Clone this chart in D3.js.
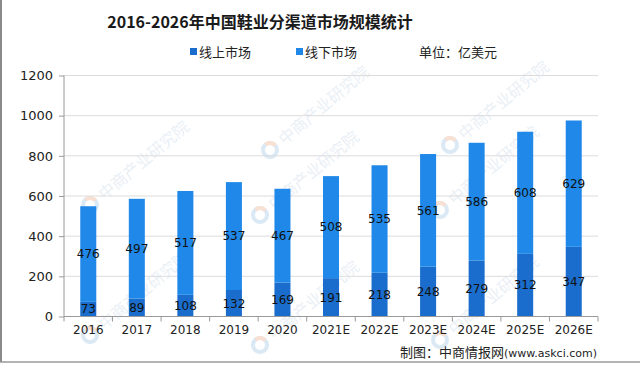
<!DOCTYPE html>
<html>
<head>
<meta charset="utf-8">
<script src="https://cdn.jsdelivr.net/npm/d3@7"></script>
<style>
body { margin: 0; background: #fff; }
svg { display: block; }
</style>
</head>
<body>
<script>
// data
var years = ["2016", "2017", "2018", "2019", "2020", "2021E", "2022E", "2023E", "2024E", "2025E", "2026E"];
var online = [73, 89, 108, 132, 169, 191, 218, 248, 279, 312, 347];
var offline = [476, 497, 517, 537, 467, 508, 535, 561, 586, 608, 629];
var seriesNames = ["线上市场", "线下市场"];
var yTicks = [0, 200, 400, 600, 800, 1000, 1200];

var colors = ["#1a6dcc", "#1f88e8"];
var W = 640, H = 368;
var margin = {top: 75.5, right: 42, bottom: 51.5, left: 64};
var cjk = "'Noto Sans CJK SC', 'Noto Sans', sans-serif";
var num = "'DejaVu Sans', Verdana, sans-serif";

var svg = d3.select("body").append("svg").attr("width", W).attr("height", H);

// watermark, very faint, kept inside the picture
var wm = svg.append("g").attr("class", "watermark");
var wmPos = [[90, 205], [260, 215], [440, 210], [90, 335], [260, 345], [440, 340], [270, 150], [450, 145]];
wmPos.forEach(function(p) {
	var g = wm.append("g").attr("transform", "translate(" + p[0] + "," + p[1] + ") rotate(-40)");
	g.append("circle").attr("r", 7).attr("fill", "none").attr("stroke", "#dbe9f5").attr("stroke-width", 4);
	g.append("path").attr("d", "M0,-7 A7,7 0 0,1 7,0").attr("fill", "none").attr("stroke", "#f8e0d3").attr("stroke-width", 4);
	g.append("text").attr("x", 14).attr("y", 6).text("中商产业研究院")
		.attr("font-family", cjk).attr("font-size", 16).attr("fill", "#eaf0f6");
});

// frame
svg.append("line").attr("x1", 1).attr("x2", 1).attr("y1", 0).attr("y2", 362).attr("stroke", "#8a8a8a").attr("stroke-width", 2);
svg.append("line").attr("x1", 0).attr("x2", W).attr("y1", 362).attr("y2", 362).attr("stroke", "#9a9a9a").attr("stroke-width", 1.5);

var width = W - margin.left - margin.right,
    height = H - margin.top - margin.bottom;

var x = d3.scaleBand().domain(years).range([0, width]).paddingInner(0.67).paddingOuter(0.335);
var y = d3.scaleLinear().domain([0, 1200]).range([height, 0]);

var g = svg.append("g").attr("transform", "translate(" + margin.left + "," + margin.top + ")");

// grid
g.selectAll(".grid").data(yTicks.slice(1)).enter().append("line")
	.attr("x1", 0).attr("x2", width)
	.attr("y1", function(d) { return y(d); }).attr("y2", function(d) { return y(d); })
	.attr("stroke", "#dcdcdc");

var stackData = years.map(function(yr, i) { return {year: yr, a: online[i], b: offline[i]}; });
var stack = d3.stack().keys(["a", "b"])(stackData);

stack.forEach(function(layer, li) {
	g.selectAll(".bar" + li).data(layer).enter().append("rect")
		.attr("x", function(d) { return x(d.data.year); })
		.attr("width", x.bandwidth())
		.attr("y", function(d) { return y(d[1]); })
		.attr("height", function(d) { return y(d[0]) - y(d[1]); })
		.attr("fill", colors[li]);
	g.selectAll(".lab" + li).data(layer).enter().append("text")
		.attr("x", function(d) { return x(d.data.year) + x.bandwidth() / 2; })
		.attr("y", function(d) { return (y(d[0]) + y(d[1])) / 2; })
		.attr("dy", "0.36em")
		.attr("text-anchor", "middle")
		.attr("font-family", num).attr("font-size", 12).attr("fill", "#111")
		.text(function(d) { return d[1] - d[0]; });
});

// axes
var yAxis = g.append("g").call(d3.axisLeft(y).tickValues(yTicks).tickFormat(d3.format("d")).tickSize(5).tickPadding(6));
yAxis.select(".domain").attr("stroke", "#9a9a9a").attr("d", "M0," + height + "V0");
yAxis.selectAll(".tick line").attr("stroke", "#9a9a9a");
yAxis.selectAll("text").attr("font-family", num).attr("font-size", 13).attr("fill", "#222");

var xAxis = g.append("g").attr("transform", "translate(0," + height + ")")
	.call(d3.axisBottom(x).tickSize(0).tickPadding(9));
xAxis.select(".domain").attr("stroke", "#9a9a9a").attr("d", "M0,0H" + width);
xAxis.selectAll("text").attr("font-family", num).attr("font-size", 12).attr("fill", "#222");
// category separators
g.selectAll(".sep").data(d3.range(years.length + 1)).enter().append("line")
	.attr("x1", function(i) { return i * x.step(); }).attr("x2", function(i) { return i * x.step(); })
	.attr("y1", height).attr("y2", height + 5).attr("stroke", "#9a9a9a");

// title
svg.append("text").attr("x", 260).attr("y", 28).attr("text-anchor", "middle")
	.attr("font-family", cjk).attr("font-size", 16).attr("font-weight", "bold").attr("fill", "#1a1a1a")
	.text("2016-2026年中国鞋业分渠道市场规模统计");

// legend
var legX = [190, 296];
seriesNames.forEach(function(n, i) {
	svg.append("rect").attr("x", legX[i]).attr("y", 48).attr("width", 7).attr("height", 7).attr("fill", colors[i]);
	svg.append("text").attr("x", legX[i] + 9).attr("y", 57).text(n)
		.attr("font-family", cjk).attr("font-size", 13).attr("fill", "#222");
});
svg.append("text").attr("x", 419).attr("y", 57).text("单位：亿美元")
	.attr("font-family", cjk).attr("font-size", 13).attr("fill", "#222");

// source
var src = svg.append("text").attr("x", 597).attr("y", 357).attr("text-anchor", "end")
	.attr("font-family", cjk).attr("font-size", 13).attr("fill", "#222");
src.append("tspan").text("制图：中商情报网");
src.append("tspan").attr("font-family", num).attr("font-size", 11).text("(www.askci.com)");
</script>
</body>
</html>
